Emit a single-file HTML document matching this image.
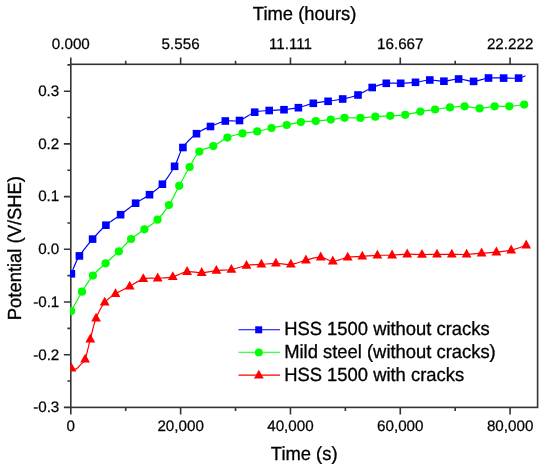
<!DOCTYPE html>
<html><head><meta charset="utf-8"><title>Potential vs Time</title>
<style>html,body{margin:0;padding:0;background:#fff;}svg{display:block;}</style>
</head><body>
<svg width="550" height="472" viewBox="0 0 550 472">
<rect width="550" height="472" fill="#fff"/>
<defs><clipPath id="c"><rect x="71.39999999999999" y="64.3" width="466.8" height="343.09999999999997"/></clipPath><clipPath id="c2"><rect x="70.1" y="64.3" width="466.8" height="343.09999999999997"/></clipPath></defs>
<g clip-path="url(#c)">
<path d="M71.40,273.80 C71.98,272.30 73.57,267.78 74.90,264.80 C76.23,261.82 76.45,260.18 79.40,255.90 C82.35,251.62 88.18,244.22 92.60,239.10 C97.02,233.98 101.23,229.27 105.90,225.20 C110.57,221.13 115.65,218.37 120.60,214.70 C125.55,211.03 130.78,206.53 135.60,203.20 C140.42,199.87 145.03,197.87 149.50,194.70 C153.97,191.53 158.22,188.93 162.40,184.20 C166.58,179.47 171.18,172.42 174.60,166.30 C178.02,160.18 179.25,152.93 182.90,147.50 C186.55,142.07 191.90,137.20 196.50,133.70 C201.10,130.20 205.70,128.62 210.50,126.50 C215.30,124.38 220.47,122.00 225.30,121.00 C230.13,120.00 234.60,121.97 239.50,120.50 C244.40,119.03 249.75,113.87 254.70,112.20 C259.65,110.53 264.32,110.92 269.20,110.50 C274.08,110.08 279.13,110.17 284.00,109.70 C288.87,109.23 293.52,108.77 298.40,107.70 C303.28,106.63 308.35,104.37 313.30,103.30 C318.25,102.23 323.20,102.02 328.10,101.30 C333.00,100.58 337.72,100.05 342.70,99.00 C347.68,97.95 353.08,96.92 358.00,95.00 C362.92,93.08 367.48,89.45 372.20,87.50 C376.92,85.55 381.55,84.00 386.30,83.30 C391.05,82.60 395.83,83.47 400.70,83.30 C405.57,83.13 410.65,82.85 415.50,82.30 C420.35,81.75 425.07,80.18 429.80,80.00 C434.53,79.82 439.10,81.37 443.90,81.20 C448.70,81.03 453.65,78.97 458.60,79.00 C463.55,79.03 468.62,81.57 473.60,81.40 C478.58,81.23 483.50,78.55 488.50,78.00 C493.50,77.45 498.58,78.08 503.60,78.10 C508.62,78.12 514.95,78.48 518.60,78.10 C522.25,77.72 524.35,76.18 525.50,75.80" fill="none" stroke="#0000ff" stroke-width="1.2"/>
<path d="M71.20,311.10 C73.00,307.87 78.38,297.62 82.00,291.70 C85.62,285.78 88.97,280.33 92.90,275.60 C96.83,270.87 101.27,267.35 105.60,263.30 C109.93,259.25 114.65,255.35 118.90,251.30 C123.15,247.25 126.85,242.67 131.10,239.00 C135.35,235.33 140.00,232.52 144.40,229.30 C148.80,226.08 153.42,223.73 157.50,219.70 C161.58,215.67 165.28,210.75 168.90,205.10 C172.52,199.45 175.75,192.15 179.20,185.80 C182.65,179.45 186.25,172.70 189.60,167.00 C192.95,161.30 195.35,155.08 199.30,151.60 C203.25,148.12 208.62,148.43 213.30,146.10 C217.98,143.77 222.53,139.72 227.40,137.60 C232.27,135.48 237.53,134.43 242.50,133.40 C247.47,132.37 252.37,132.30 257.20,131.40 C262.03,130.50 266.58,129.07 271.50,128.00 C276.42,126.93 281.80,125.98 286.70,125.00 C291.60,124.02 296.05,122.75 300.90,122.10 C305.75,121.45 310.82,121.52 315.80,121.10 C320.78,120.68 326.02,120.15 330.80,119.60 C335.58,119.05 339.57,118.08 344.50,117.80 C349.43,117.52 355.27,118.08 360.40,117.90 C365.53,117.72 370.33,117.05 375.30,116.70 C380.27,116.35 385.22,116.12 390.20,115.80 C395.18,115.48 400.18,115.50 405.20,114.80 C410.22,114.10 415.32,112.48 420.30,111.60 C425.28,110.72 430.15,110.20 435.10,109.50 C440.05,108.80 445.08,107.93 450.00,107.40 C454.92,106.87 459.67,106.13 464.60,106.30 C469.53,106.47 474.60,108.40 479.60,108.40 C484.60,108.40 489.65,106.65 494.60,106.30 C499.55,105.95 504.37,106.58 509.30,106.30 C514.23,106.02 521.72,104.88 524.20,104.60" fill="none" stroke="#00ff00" stroke-width="1.2"/>
<path d="M71.50,368.40 C72.33,368.48 74.83,369.70 76.50,368.90 C78.17,368.10 80.07,365.18 81.50,363.60 C82.93,362.02 83.63,363.47 85.10,359.40 C86.57,355.33 88.47,346.05 90.30,339.20 C92.13,332.35 93.70,324.45 96.10,318.30 C98.50,312.15 101.47,306.37 104.70,302.30 C107.93,298.23 111.33,296.57 115.50,293.90 C119.67,291.23 125.07,288.82 129.70,286.30 C134.33,283.78 138.63,280.15 143.30,278.80 C147.97,277.45 152.78,278.53 157.70,278.20 C162.62,277.87 167.90,277.88 172.80,276.80 C177.70,275.72 182.28,272.38 187.10,271.70 C191.92,271.02 196.82,272.88 201.70,272.70 C206.58,272.52 211.45,271.13 216.40,270.60 C221.35,270.07 226.38,270.35 231.40,269.50 C236.42,268.65 241.50,266.35 246.50,265.50 C251.50,264.65 256.50,264.75 261.40,264.40 C266.30,264.05 270.98,263.40 275.90,263.40 C280.82,263.40 285.90,264.93 290.90,264.40 C295.90,263.87 300.93,261.40 305.90,260.20 C310.87,259.00 316.22,257.03 320.70,257.20 C325.18,257.37 328.30,261.18 332.80,261.20 C337.30,261.22 342.78,258.10 347.70,257.30 C352.62,256.50 357.35,256.73 362.30,256.40 C367.25,256.07 372.43,255.50 377.40,255.30 C382.37,255.10 387.13,255.38 392.10,255.20 C397.07,255.02 402.22,254.32 407.20,254.20 C412.18,254.08 417.03,254.47 422.00,254.50 C426.97,254.53 432.03,254.42 437.00,254.40 C441.97,254.38 446.87,254.40 451.80,254.40 C456.73,254.40 461.63,254.60 466.60,254.40 C471.57,254.20 476.63,253.57 481.60,253.20 C486.57,252.83 491.47,252.70 496.40,252.20 C501.33,251.70 506.23,251.37 511.20,250.20 C516.17,249.03 523.70,246.03 526.20,245.20" fill="none" stroke="#ff0000" stroke-width="1.2"/>
</g>
<path d="M70.80,407.40V414.60 M70.80,64.30V57.50 M180.62,407.40V414.60 M180.62,64.30V57.50 M290.45,407.40V414.60 M290.45,64.30V57.50 M400.28,407.40V414.60 M400.28,64.30V57.50 M510.10,407.40V414.60 M510.10,64.30V57.50 M125.71,407.40V411.00 M125.71,64.30V60.70 M235.54,407.40V411.00 M235.54,64.30V60.70 M345.36,407.40V411.00 M345.36,64.30V60.70 M455.19,407.40V411.00 M455.19,64.30V60.70 M70.80,91.20H63.90 M70.80,143.90H63.90 M70.80,196.60H63.90 M70.80,249.30H63.90 M70.80,302.00H63.90 M70.80,354.70H63.90 M70.80,407.40H63.90 M70.80,64.85H67.40 M70.80,117.55H67.40 M70.80,170.25H67.40 M70.80,222.95H67.40 M70.80,275.65H67.40 M70.80,328.35H67.40 M70.80,381.05H67.40" stroke="#333" stroke-width="1.6" fill="none"/>
<rect x="70.8" y="64.3" width="466.80" height="343.10" fill="none" stroke="#333" stroke-width="1.6"/>
<g clip-path="url(#c2)">
<g fill="#0000ff"><rect x="67.60" y="270.00" width="7.6" height="7.6"/><rect x="75.60" y="252.10" width="7.6" height="7.6"/><rect x="88.80" y="235.30" width="7.6" height="7.6"/><rect x="102.10" y="221.40" width="7.6" height="7.6"/><rect x="116.80" y="210.90" width="7.6" height="7.6"/><rect x="131.80" y="199.40" width="7.6" height="7.6"/><rect x="145.70" y="190.90" width="7.6" height="7.6"/><rect x="158.60" y="180.40" width="7.6" height="7.6"/><rect x="170.80" y="162.50" width="7.6" height="7.6"/><rect x="179.10" y="143.70" width="7.6" height="7.6"/><rect x="192.70" y="129.90" width="7.6" height="7.6"/><rect x="206.70" y="122.70" width="7.6" height="7.6"/><rect x="221.50" y="117.20" width="7.6" height="7.6"/><rect x="235.70" y="116.70" width="7.6" height="7.6"/><rect x="250.90" y="108.40" width="7.6" height="7.6"/><rect x="265.40" y="106.70" width="7.6" height="7.6"/><rect x="280.20" y="105.90" width="7.6" height="7.6"/><rect x="294.60" y="103.90" width="7.6" height="7.6"/><rect x="309.50" y="99.50" width="7.6" height="7.6"/><rect x="324.30" y="97.50" width="7.6" height="7.6"/><rect x="338.90" y="95.20" width="7.6" height="7.6"/><rect x="354.20" y="91.20" width="7.6" height="7.6"/><rect x="368.40" y="83.70" width="7.6" height="7.6"/><rect x="382.50" y="79.50" width="7.6" height="7.6"/><rect x="396.90" y="79.50" width="7.6" height="7.6"/><rect x="411.70" y="78.50" width="7.6" height="7.6"/><rect x="426.00" y="76.20" width="7.6" height="7.6"/><rect x="440.10" y="77.40" width="7.6" height="7.6"/><rect x="454.80" y="75.20" width="7.6" height="7.6"/><rect x="469.80" y="77.60" width="7.6" height="7.6"/><rect x="484.70" y="74.20" width="7.6" height="7.6"/><rect x="499.80" y="74.30" width="7.6" height="7.6"/><rect x="514.80" y="74.30" width="7.6" height="7.6"/></g>
<g fill="#00ff00"><circle cx="71.20" cy="311.10" r="4.1"/><circle cx="82.00" cy="291.70" r="4.1"/><circle cx="92.90" cy="275.60" r="4.1"/><circle cx="105.60" cy="263.30" r="4.1"/><circle cx="118.90" cy="251.30" r="4.1"/><circle cx="131.10" cy="239.00" r="4.1"/><circle cx="144.40" cy="229.30" r="4.1"/><circle cx="157.50" cy="219.70" r="4.1"/><circle cx="168.90" cy="205.10" r="4.1"/><circle cx="179.20" cy="185.80" r="4.1"/><circle cx="189.60" cy="167.00" r="4.1"/><circle cx="199.30" cy="151.60" r="4.1"/><circle cx="213.30" cy="146.10" r="4.1"/><circle cx="227.40" cy="137.60" r="4.1"/><circle cx="242.50" cy="133.40" r="4.1"/><circle cx="257.20" cy="131.40" r="4.1"/><circle cx="271.50" cy="128.00" r="4.1"/><circle cx="286.70" cy="125.00" r="4.1"/><circle cx="300.90" cy="122.10" r="4.1"/><circle cx="315.80" cy="121.10" r="4.1"/><circle cx="330.80" cy="119.60" r="4.1"/><circle cx="344.50" cy="117.80" r="4.1"/><circle cx="360.40" cy="117.90" r="4.1"/><circle cx="375.30" cy="116.70" r="4.1"/><circle cx="390.20" cy="115.80" r="4.1"/><circle cx="405.20" cy="114.80" r="4.1"/><circle cx="420.30" cy="111.60" r="4.1"/><circle cx="435.10" cy="109.50" r="4.1"/><circle cx="450.00" cy="107.40" r="4.1"/><circle cx="464.60" cy="106.30" r="4.1"/><circle cx="479.60" cy="108.40" r="4.1"/><circle cx="494.60" cy="106.30" r="4.1"/><circle cx="509.30" cy="106.30" r="4.1"/><circle cx="524.20" cy="104.60" r="4.1"/></g>
<g fill="#ff0000"><polygon points="66.60,371.60 76.40,371.60 71.50,362.80"/><polygon points="80.20,362.60 90.00,362.60 85.10,353.80"/><polygon points="85.40,342.40 95.20,342.40 90.30,333.60"/><polygon points="91.20,321.50 101.00,321.50 96.10,312.70"/><polygon points="99.80,305.50 109.60,305.50 104.70,296.70"/><polygon points="110.60,297.10 120.40,297.10 115.50,288.30"/><polygon points="124.80,289.50 134.60,289.50 129.70,280.70"/><polygon points="138.40,282.00 148.20,282.00 143.30,273.20"/><polygon points="152.80,281.40 162.60,281.40 157.70,272.60"/><polygon points="167.90,280.00 177.70,280.00 172.80,271.20"/><polygon points="182.20,274.90 192.00,274.90 187.10,266.10"/><polygon points="196.80,275.90 206.60,275.90 201.70,267.10"/><polygon points="211.50,273.80 221.30,273.80 216.40,265.00"/><polygon points="226.50,272.70 236.30,272.70 231.40,263.90"/><polygon points="241.60,268.70 251.40,268.70 246.50,259.90"/><polygon points="256.50,267.60 266.30,267.60 261.40,258.80"/><polygon points="271.00,266.60 280.80,266.60 275.90,257.80"/><polygon points="286.00,267.60 295.80,267.60 290.90,258.80"/><polygon points="301.00,263.40 310.80,263.40 305.90,254.60"/><polygon points="315.80,260.40 325.60,260.40 320.70,251.60"/><polygon points="327.90,264.40 337.70,264.40 332.80,255.60"/><polygon points="342.80,260.50 352.60,260.50 347.70,251.70"/><polygon points="357.40,259.60 367.20,259.60 362.30,250.80"/><polygon points="372.50,258.50 382.30,258.50 377.40,249.70"/><polygon points="387.20,258.40 397.00,258.40 392.10,249.60"/><polygon points="402.30,257.40 412.10,257.40 407.20,248.60"/><polygon points="417.10,257.70 426.90,257.70 422.00,248.90"/><polygon points="432.10,257.60 441.90,257.60 437.00,248.80"/><polygon points="446.90,257.60 456.70,257.60 451.80,248.80"/><polygon points="461.70,257.60 471.50,257.60 466.60,248.80"/><polygon points="476.70,256.40 486.50,256.40 481.60,247.60"/><polygon points="491.50,255.40 501.30,255.40 496.40,246.60"/><polygon points="506.30,253.40 516.10,253.40 511.20,244.60"/><polygon points="521.30,248.40 531.10,248.40 526.20,239.60"/></g>
</g>
<g style="font-family:'Liberation Sans',Arial,sans-serif;text-rendering:geometricPrecision" fill="#000">
<text transform="translate(70.80,49.40)" text-anchor="middle" style="font-size:15.2px" stroke="#000" stroke-width="0.25">0.000</text>
<text transform="translate(180.62,49.40)" text-anchor="middle" style="font-size:15.2px" stroke="#000" stroke-width="0.25">5.556</text>
<text transform="translate(290.45,49.40)" text-anchor="middle" style="font-size:15.2px" stroke="#000" stroke-width="0.25">11.111</text>
<text transform="translate(400.28,49.40)" text-anchor="middle" style="font-size:15.2px" stroke="#000" stroke-width="0.25">16.667</text>
<text transform="translate(510.10,49.40)" text-anchor="middle" style="font-size:15.2px" stroke="#000" stroke-width="0.25">22.222</text>
<text transform="translate(70.80,431.00)" text-anchor="middle" style="font-size:15.2px" stroke="#000" stroke-width="0.25">0</text>
<text transform="translate(180.62,431.00)" text-anchor="middle" style="font-size:15.2px" stroke="#000" stroke-width="0.25">20,000</text>
<text transform="translate(290.45,431.00)" text-anchor="middle" style="font-size:15.2px" stroke="#000" stroke-width="0.25">40,000</text>
<text transform="translate(400.28,431.00)" text-anchor="middle" style="font-size:15.2px" stroke="#000" stroke-width="0.25">60,000</text>
<text transform="translate(510.10,431.00)" text-anchor="middle" style="font-size:15.2px" stroke="#000" stroke-width="0.25">80,000</text>
<text transform="translate(59.30,96.00)" text-anchor="end" style="font-size:15.2px" stroke="#000" stroke-width="0.25">0.3</text>
<text transform="translate(59.30,148.70)" text-anchor="end" style="font-size:15.2px" stroke="#000" stroke-width="0.25">0.2</text>
<text transform="translate(59.30,201.40)" text-anchor="end" style="font-size:15.2px" stroke="#000" stroke-width="0.25">0.1</text>
<text transform="translate(59.30,254.10)" text-anchor="end" style="font-size:15.2px" stroke="#000" stroke-width="0.25">0.0</text>
<text transform="translate(59.30,306.80)" text-anchor="end" style="font-size:15.2px" stroke="#000" stroke-width="0.25">-0.1</text>
<text transform="translate(59.30,359.50)" text-anchor="end" style="font-size:15.2px" stroke="#000" stroke-width="0.25">-0.2</text>
<text transform="translate(59.30,412.20)" text-anchor="end" style="font-size:15.2px" stroke="#000" stroke-width="0.25">-0.3</text>
<text transform="translate(304.60,19.80) scale(1,1.03)" text-anchor="middle" style="font-size:18.4px" stroke="#000" stroke-width="0.3">Time (hours)</text>
<text transform="translate(304.20,459.70) scale(1,1.03)" text-anchor="middle" style="font-size:18.4px" stroke="#000" stroke-width="0.3">Time (s)</text>
<text transform="translate(20.50,248.10) rotate(-90) scale(1,1.03)" text-anchor="middle" style="font-size:18.4px" stroke="#000" stroke-width="0.3">Potential (V/SHE)</text>
<text transform="translate(284.20,335.00) scale(1,1.03)" text-anchor="start" style="font-size:18.4px" stroke="#000" stroke-width="0.3">HSS 1500 without cracks</text>
<text transform="translate(284.20,357.80) scale(1,1.03)" text-anchor="start" style="font-size:18.4px" stroke="#000" stroke-width="0.3">Mild steel (without cracks)</text>
<text transform="translate(284.20,380.60) scale(1,1.03)" text-anchor="start" style="font-size:18.4px" stroke="#000" stroke-width="0.3">HSS 1500 with cracks</text>
</g>
<path d="M238.5,329.8H280" stroke="#0000ff" stroke-width="1.1"/>
<path d="M238.5,352.2H280" stroke="#00ff00" stroke-width="1.1"/>
<path d="M238.5,375.1H280" stroke="#ff0000" stroke-width="1.1"/>
<g fill="#0000ff"><rect x="255.20" y="326.30" width="7.0" height="7.0"/></g>
<g fill="#00ff00"><circle cx="258.80" cy="352.40" r="3.95"/></g>
<g fill="#ff0000"><polygon points="253.90,378.60 263.70,378.60 258.80,369.80"/></g>
</svg>
</body></html>
